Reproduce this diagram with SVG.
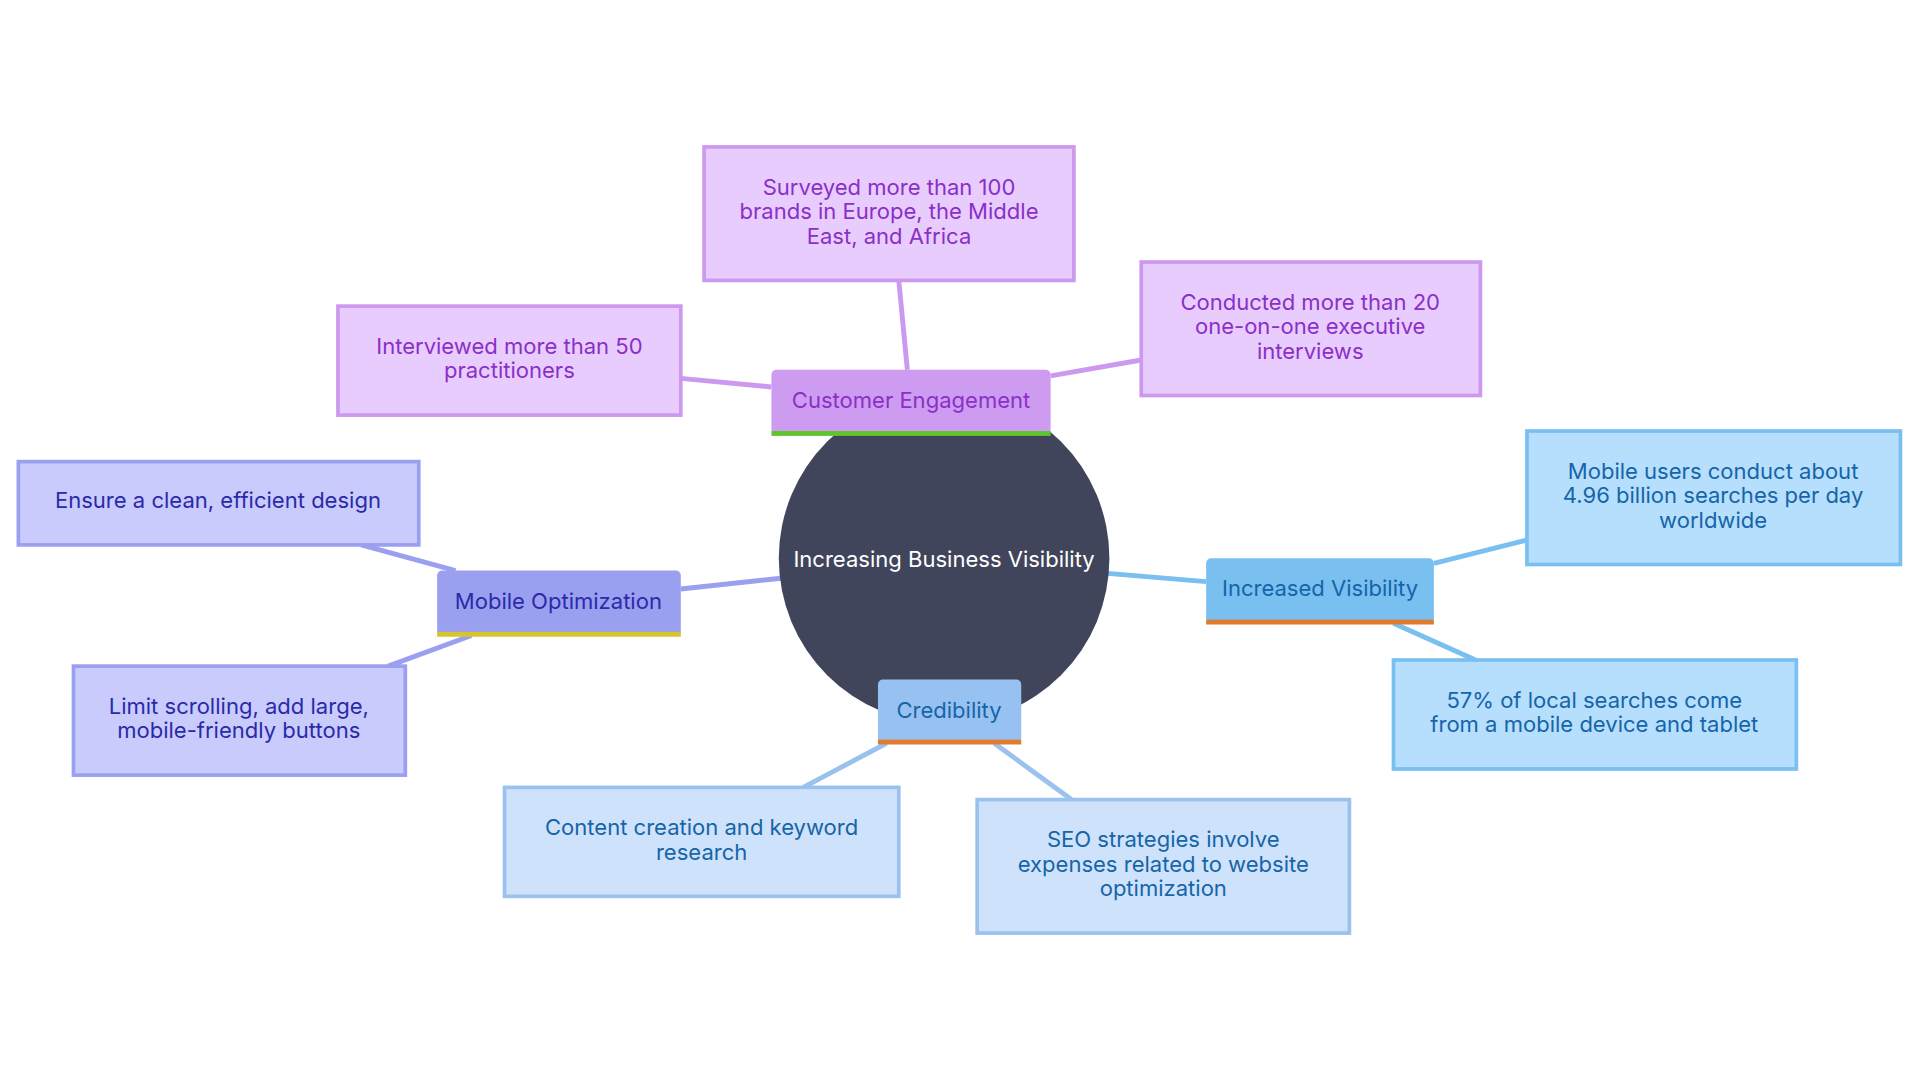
<svg xmlns="http://www.w3.org/2000/svg" width="1920" height="1080" viewBox="0 0 1920 1080">
<style>
text{font-family:Inter,"Noto Sans",sans-serif;font-size:18px;text-anchor:middle}
.cl{stroke-width:4;fill:none}
.p{stroke:#cc99ee}.pb{fill:#e8ccfd;stroke:#cc99ee;stroke-width:3}.pt{fill:#8a2fc8}
.v{stroke:#9b9ff0}.vb{fill:#c9cbfc;stroke:#9b9ff0;stroke-width:3}.vt{fill:#2a2aa8}
.b{stroke:#79bff0}.bb{fill:#b6defd;stroke:#79bff0;stroke-width:3}.bt{fill:#1565a8}
.c{stroke:#9bc2ef}.cb{fill:#cfe2fb;stroke:#9bc2ef;stroke-width:3}
</style>
<rect width="1920" height="1080" fill="#fff"/>
<g transform="scale(1.2245)">
<g id="connectors">
<line class="cl p" x1="741" y1="302" x2="734" y2="229"/>
<line class="cl p" x1="630" y1="316" x2="556" y2="309"/>
<line class="cl p" x1="858" y1="307" x2="932" y2="294"/>
<line class="cl v" x1="556" y1="481" x2="640" y2="472"/>
<line class="cl v" x1="372" y1="466" x2="295" y2="445"/>
<line class="cl v" x1="385" y1="519" x2="317" y2="544"/>
<line class="cl b" x1="902" y1="468" x2="985" y2="475"/>
<line class="cl b" x1="1171" y1="460" x2="1247" y2="441"/>
<line class="cl b" x1="1138" y1="509" x2="1205" y2="539"/>
<line class="cl c" x1="724" y1="607" x2="656" y2="643"/>
<line class="cl c" x1="812" y1="607" x2="875" y2="653"/>
</g>
<g id="root"><circle cx="771" cy="456" r="135" fill="#41455c"/><text x="771" y="463" fill="#fff">Increasing Business Visibility</text></g>
<g id="ce"><rect x="630" y="302" width="228" height="53" rx="4" fill="#cd9cf0"/><rect x="630" y="352" width="228" height="4" fill="#5fc52f"/><text class="pt" x="744" y="333">Customer Engagement</text></g>
<g id="ce1"><rect class="pb" x="575" y="120" width="302" height="109"/><text class="pt" x="726" y="159">Surveyed more than 100</text><text class="pt" x="726" y="179">brands in Europe, the Middle</text><text class="pt" x="726" y="199">East, and Africa</text></g>
<g id="ce2"><rect class="pb" x="276" y="250" width="280" height="89"/><text class="pt" x="416" y="289">Interviewed more than 50</text><text class="pt" x="416" y="309">practitioners</text></g>
<g id="ce3"><rect class="pb" x="932" y="214" width="277" height="109"/><text class="pt" x="1070" y="253">Conducted more than 20</text><text class="pt" x="1070" y="273">one-on-one executive</text><text class="pt" x="1070" y="293">interviews</text></g>
<g id="mo"><rect x="357" y="466" width="199" height="53" rx="4" fill="#9b9ff0"/><rect x="357" y="516" width="199" height="4" fill="#d4c62a"/><text class="vt" x="456" y="497">Mobile Optimization</text></g>
<g id="mo1"><rect class="vb" x="15" y="377" width="327" height="68"/><text class="vt" x="178" y="415">Ensure a clean, efficient design</text></g>
<g id="mo2"><rect class="vb" x="60" y="544" width="271" height="89"/><text class="vt" x="195" y="583">Limit scrolling, add large,</text><text class="vt" x="195" y="603">mobile-friendly buttons</text></g>
<g id="iv"><rect x="985" y="456" width="186" height="53" rx="4" fill="#79bff0"/><rect x="985" y="506" width="186" height="4" fill="#e07b30"/><text class="bt" x="1078" y="487">Increased Visibility</text></g>
<g id="iv1"><rect class="bb" x="1247" y="352" width="305" height="109"/><text class="bt" x="1399" y="391">Mobile users conduct about</text><text class="bt" x="1399" y="411">4.96 billion searches per day</text><text class="bt" x="1399" y="431">worldwide</text></g>
<g id="iv2"><rect class="bb" x="1138" y="539" width="329" height="89"/><text class="bt" x="1302" y="578">57% of local searches come</text><text class="bt" x="1302" y="598">from a mobile device and tablet</text></g>
<g id="cr"><rect x="717" y="555" width="117" height="52" rx="4" fill="#97c1f0"/><rect x="717" y="604" width="117" height="4" fill="#e07b30"/><text class="bt" x="775" y="586">Credibility</text></g>
<g id="cr1"><rect class="cb" x="412" y="643" width="322" height="89"/><text class="bt" x="573" y="682">Content creation and keyword</text><text class="bt" x="573" y="702">research</text></g>
<g id="cr2"><rect class="cb" x="798" y="653" width="304" height="109"/><text class="bt" x="950" y="692">SEO strategies involve</text><text class="bt" x="950" y="712">expenses related to website</text><text class="bt" x="950" y="732">optimization</text></g>
</g>
</svg>
